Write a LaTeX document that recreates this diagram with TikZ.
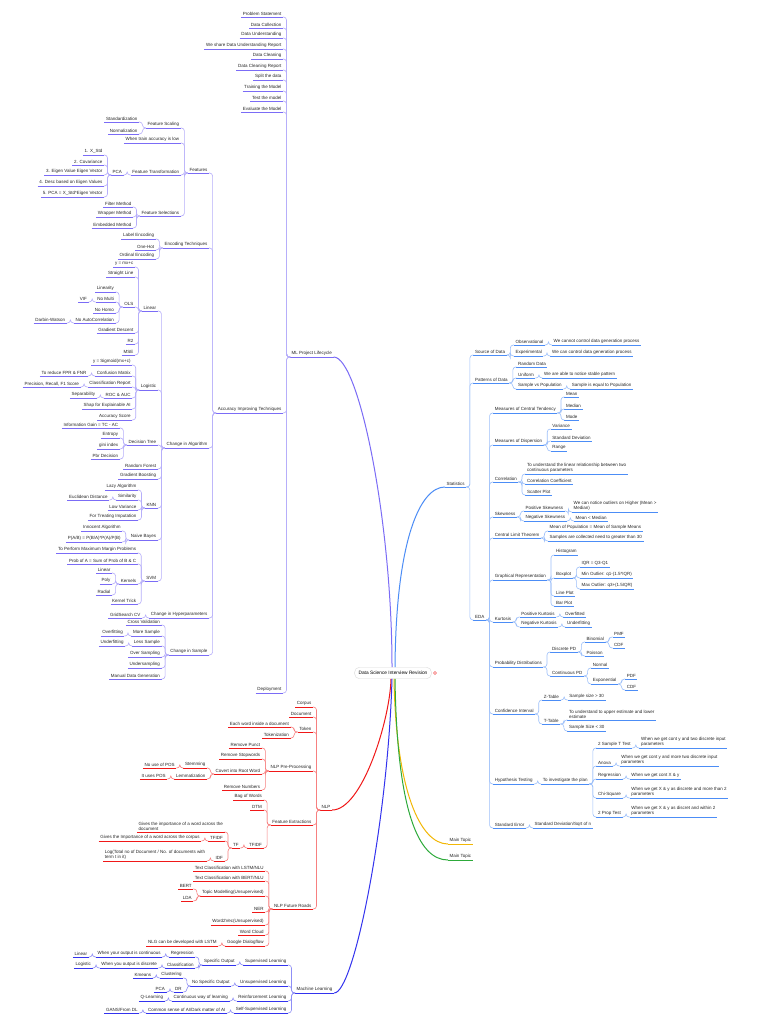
\documentclass[tikz,border=0pt]{standalone}
\usepackage{fontspec}
\setmainfont{Liberation Sans}
\usetikzlibrary{calc}
\definecolor{mlp}{HTML}{7B6CF6}
\definecolor{sta}{HTML}{4C8DF6}
\definecolor{nlp}{HTML}{F01818}
\definecolor{mlb}{HTML}{3333EE}
\definecolor{yel}{HTML}{F2B705}
\definecolor{grn}{HTML}{2DAA3A}
\tikzset{lbl/.style={inner xsep=1.5pt,inner ysep=1.2pt,align=left,text=black!85,font=\fontsize{4.5}{5.2}\selectfont}}
\newcommand{\AN}[6]{\node[lbl,anchor=#6] (#1) at (#2,#3) {#4};
 \draw[#5,line width=.9pt] (#1.south west) -- (#1.south east);}
\newcommand{\LC}[5]{\path let \p1=(#2.south west) in node[lbl,anchor=south east] (#1) at (\x1-7pt,-#3pt) {#4};
 \draw[#5,line width=.7pt] (#1.south west) -- (#1.south east);
 \draw[#5!55!white,line width=.6pt,rounded corners=3pt] (#2.south west) -- ++(-3.5pt,0) |- (#1.south east);}
\newcommand{\RC}[5]{\path let \p1=(#2.south east) in node[lbl,anchor=south west] (#1) at (\x1+7pt,-#3pt) {#4};
 \draw[#5,line width=.7pt] (#1.south west) -- (#1.south east);
 \draw[#5!55!white,line width=.6pt,rounded corners=3pt] (#2.south east) -- ++(3.5pt,0) |- (#1.south west);}
\begin{document}
\begin{tikzpicture}[x=1pt,y=-1pt]
\useasboundingbox[fill=white] (0,0) rectangle (768,1024);
% center
\node[draw=black!15,rounded corners=5pt,fill=white,inner sep=4pt,font=\fontsize{4.8}{5.5}\selectfont] (root) at (393,673) {Data Science Interview Revision};
\node[draw=nlp!70,circle,inner sep=0pt,minimum size=3pt] (rdot) at (435,673) {};
% ML project lifecycle
\AN{mlpl}{290}{357}{ML Project Lifecycle}{mlp}{south west}
\LC{ps}{mlpl}{17}{Problem Statement}{mlp}
\LC{dc}{mlpl}{28}{Data Collection}{mlp}
\LC{du}{mlpl}{38}{Data Understanding}{mlp}
\LC{ws}{mlpl}{49}{We share Data Understanding Report}{mlp}
\LC{dcl}{mlpl}{59}{Data Cleaning}{mlp}
\LC{dcr}{mlpl}{70}{Data Cleaning Report}{mlp}
\LC{sp}{mlpl}{80}{Split the data}{mlp}
\LC{tm}{mlpl}{91}{Training the Model}{mlp}
\LC{tst}{mlpl}{101}{Test the model}{mlp}
\LC{ev}{mlpl}{112}{Evaluate the Model}{mlp}
\LC{ait}{mlpl}{413}{Accuracy Improving Techniques}{mlp}
\LC{dep}{mlpl}{693}{Deployment}{mlp}
\LC{feat}{ait}{173}{Features}{mlp}
\LC{enc}{ait}{248}{Encoding Techniques}{mlp}
\LC{cia}{ait}{448}{Change in Algorithm}{mlp}
\LC{chp}{ait}{618}{Change in Hyperparameters}{mlp}
\LC{cis}{ait}{655}{Change in Sample}{mlp}
\LC{fs}{feat}{128}{Feature Scaling}{mlp}
\LC{wtl}{feat}{143}{When train accuracy is low}{mlp}
\LC{ft}{feat}{175}{Feature Transformation}{mlp}
\LC{fsel}{feat}{216}{Feature Selections}{mlp}
\LC{std}{fs}{122}{Standardization}{mlp}
\LC{nrm}{fs}{134}{Normalization}{mlp}
\LC{pca}{ft}{175}{PCA}{mlp}
\LC{p1}{pca}{155}{1. X\_Std}{mlp}
\LC{p2}{pca}{165}{2. Covariance}{mlp}
\LC{p3}{pca}{175}{3. Eigen Value Eigen Vector}{mlp}
\LC{p4}{pca}{186}{4. Desc based on Eigen Values}{mlp}
\LC{p5}{pca}{197}{5. PCA = X\_Std*Eigen Vector}{mlp}
\LC{fm}{fsel}{207}{Filter Method}{mlp}
\LC{wm}{fsel}{217}{Wrapper Method}{mlp}
\LC{em}{fsel}{228}{Embedded Method}{mlp}
\LC{le}{enc}{239}{Label Encoding}{mlp}
\LC{oh}{enc}{250}{One-Hot}{mlp}
\LC{oe}{enc}{259}{Ordinal Encoding}{mlp}
\LC{lin}{cia}{311}{Linear}{mlp}
\LC{logi}{cia}{390}{Logistic}{mlp}
\LC{dt}{cia}{445}{Decision Tree}{mlp}
\LC{rf}{cia}{469}{Random Forest}{mlp}
\LC{gb}{cia}{479}{Gradient Boosting}{mlp}
\LC{knn}{cia}{508}{KNN}{mlp}
\LC{nb}{cia}{540}{Naive Bayes}{mlp}
\LC{svm}{cia}{581}{SVM}{mlp}
\LC{ymx}{lin}{267}{y = mx+c}{mlp}
\LC{sl}{lin}{277}{Straight Line}{mlp}
\LC{ols}{lin}{307}{OLS}{mlp}
\LC{gd}{lin}{333}{Gradient Descent}{mlp}
\LC{r2}{lin}{344}{R2}{mlp}
\LC{mse}{lin}{355}{MSE}{mlp}
\LC{lny}{ols}{292}{Linearity}{mlp}
\LC{nm}{ols}{302}{No Multi}{mlp}
\LC{nh}{ols}{313}{No Homo}{mlp}
\LC{nac}{ols}{323}{No AutoCorrelation}{mlp}
\LC{vif}{nm}{302}{VIF}{mlp}
\LC{dw}{nac}{323}{Darbin-Watson}{mlp}
\LC{sig}{logi}{365}{y = Sigmoid(mx+c)}{mlp}
\LC{cm}{logi}{376}{Confusion Matrix}{mlp}
\LC{cr}{logi}{387}{Classification Report}{mlp}
\LC{roc}{logi}{398}{ROC \& AUC}{mlp}
\LC{shap}{logi}{409}{Shap for Explainable AI}{mlp}
\LC{acc}{logi}{420}{Accuracy Score}{mlp}
\LC{fpr}{cm}{376}{To reduce FPR \& FNR}{mlp}
\LC{prf}{cr}{387}{Precision, Recall, F1 Score}{mlp}
\LC{sepa}{roc}{398}{Separability}{mlp}
\LC{ig}{dt}{428}{Information Gain = TC - AC}{mlp}
\LC{ent}{dt}{438}{Entropy}{mlp}
\LC{gini}{dt}{449}{gini index}{mlp}
\LC{pbr}{dt}{459}{Pbr Decision}{mlp}
\LC{lazy}{knn}{490}{Lazy Algorithm}{mlp}
\LC{sim}{knn}{500}{Similarity}{mlp}
\LC{lv}{knn}{510}{Low Variance}{mlp}
\LC{fti}{knn}{520}{For Treating Imputation}{mlp}
\LC{ed}{sim}{500}{Euclidean Distance}{mlp}
\LC{inn}{nb}{531}{Innocent Algorithm}{mlp}
\LC{pab}{nb}{542}{P(A/B) = P(B/A)*P(A)/P(B)}{mlp}
\LC{mm}{svm}{553}{To Perform Maximum Margin Problems}{mlp}
\LC{pa}{svm}{564}{Prob of A = Sum of Prob of B \& C}{mlp}
\LC{ker}{svm}{584}{Kernels}{mlp}
\LC{kt}{svm}{604}{Kernel Trick}{mlp}
\LC{kl}{ker}{573}{Linear}{mlp}
\LC{kp}{ker}{584}{Poly}{mlp}
\LC{kr}{ker}{595}{Radial}{mlp}
\LC{gs}{chp}{618}{GridSearch CV}{mlp}
\LC{cv}{cis}{625}{Cross Validation}{mlp}
\LC{ms}{cis}{636}{More Sample}{mlp}
\LC{ls}{cis}{646}{Less Sample}{mlp}
\LC{os}{cis}{657}{Over Sampling}{mlp}
\LC{us}{cis}{668}{Undersampling}{mlp}
\LC{mdg}{cis}{679}{Manual Data Generation}{mlp}
\LC{of}{ms}{636}{Overfitting}{mlp}
\LC{uf}{ls}{646}{Underfitting}{mlp}
% NLP
\AN{nlpn}{320}{810}{NLP}{nlp}{south west}
\LC{corp}{nlpn}{707}{Corpus}{nlp}
\LC{docu}{nlpn}{717}{Document}{nlp}
\LC{tok}{nlpn}{732}{Token}{nlp}
\LC{npp}{nlpn}{771}{NLP Pre-Processing}{nlp}
\LC{fe}{nlpn}{825}{Feature Extractions}{nlp}
\LC{nfr}{nlpn}{909}{NLP Future Roads}{nlp}
\LC{ew}{tok}{727}{Each word inside a document}{nlp}
\LC{tkn}{tok}{738}{Tokenization}{nlp}
\LC{rp}{npp}{748}{Remove Punct}{nlp}
\LC{rs}{npp}{759}{Remove Stopwords}{nlp}
\LC{crw}{npp}{774}{Covert into Root Word}{nlp}
\LC{rn}{npp}{790}{Remove Numbers}{nlp}
\LC{stem}{crw}{768}{Stemming}{nlp}
\LC{lem}{crw}{779}{Lemmatization}{nlp}
\LC{nup}{stem}{768}{No use of POS}{nlp}
\LC{iup}{lem}{779}{It uses POS}{nlp}
\LC{bow}{fe}{800}{Bag of Words}{nlp}
\LC{dtm}{fe}{810}{DTM}{nlp}
\LC{tfidf}{fe}{848}{TFIDF}{nlp}
\LC{tf}{tfidf}{848}{TF}{nlp}
\LC{gid}{tf}{832}{Gives the importance of a word across the\\document}{nlp}
\LC{tfidfb}{tf}{841}{TFIDF}{nlp}
\LC{idf}{tf}{861}{IDF}{nlp}
\LC{gic}{tfidfb}{841}{Gives the Importance of a word across the corpus}{nlp}
\LC{logt}{idf}{861}{Log(Total no of Document / No. of documents with\\term t in it)}{nlp}
\LC{tcl}{nfr}{871}{Text Classification with LSTM/NLU}{nlp}
\LC{tcb}{nfr}{881}{Text Classification with BERT/NLU}{nlp}
\LC{topm}{nfr}{896}{Topic Modelling(Unsupervised)}{nlp}
\LC{ner}{nfr}{912}{NER}{nlp}
\LC{wtv}{nfr}{925}{Word2Vec(Unsupervised)}{nlp}
\LC{wc}{nfr}{935}{Word Cloud}{nlp}
\LC{gdf}{nfr}{946}{Google Dialogflow}{nlp}
\LC{bert}{topm}{889}{BERT}{nlp}
\LC{lda}{topm}{901}{LDA}{nlp}
\LC{nlg}{gdf}{946}{NLG can be developed with LSTM}{nlp}
% Machine learning
\AN{ml}{295}{993}{Machine Learning}{mlb}{south west}
\LC{sup}{ml}{965}{Supervised Learning}{mlb}
\LC{uns}{ml}{986}{Unsupervised Learning}{mlb}
\LC{rl}{ml}{1001}{Reinforcement Learning}{mlb}
\LC{ssl}{ml}{1013}{Self-Supervised Learning}{mlb}
\LC{so}{sup}{965}{Specific Output}{mlb}
\LC{reg}{so}{957}{Regression}{mlb}
\LC{cla}{so}{968}{Classification}{mlb}
\LC{woc}{reg}{957}{When your output is continuous}{mlb}
\LC{lnr}{woc}{957}{Linear}{mlb}
\LC{wod}{cla}{968}{When you output is discrete}{mlb}
\LC{lgs}{wod}{968}{Logistic}{mlb}
\LC{nso}{uns}{986}{No Specific Output}{mlb}
\LC{clu}{nso}{978}{Clustering}{mlb}
\LC{drr}{nso}{992}{DR}{mlb}
\LC{km}{clu}{978}{Kmeans}{mlb}
\LC{pcam}{drr}{992}{PCA}{mlb}
\LC{cwl}{rl}{1001}{Continuous way of learning}{mlb}
\LC{ql}{cwl}{1001}{Q-Learning}{mlb}
\LC{cs}{ssl}{1013}{Common sense of AI/Dark matter of AI}{mlb}
\LC{gan}{cs}{1013}{GANS/From DL}{mlb}
% Statistics
\AN{stat}{445}{487}{Statistics}{sta}{south west}
\RC{sod}{stat}{355}{Source of Data}{sta}
\RC{pod}{stat}{383}{Patterns of Data}{sta}
\RC{eda}{stat}{620}{EDA}{sta}
\RC{obs}{sod}{345}{Observational}{sta}
\RC{expm}{sod}{356}{Experimental}{sta}
\RC{wcn}{obs}{345}{We cannot control data generation process}{sta}
\RC{wcc}{expm}{356}{We can control data generation process}{sta}
\RC{rd}{pod}{367}{Random Data}{sta}
\RC{uni}{pod}{378}{Uniform}{sta}
\RC{svp}{pod}{389}{Sample vs Population}{sta}
\RC{wan}{uni}{378}{We are able to notice stable pattern}{sta}
\RC{sep}{svp}{389}{Sample is equal to Population}{sta}
\RC{mct}{eda}{413}{Measures of Central Tendency}{sta}
\RC{mdi}{eda}{445}{Measures of Dispersion}{sta}
\RC{corr}{eda}{482}{Correlation}{sta}
\RC{skew}{eda}{517}{Skewness}{sta}
\RC{clt}{eda}{538}{Central Limit Theorem}{sta}
\RC{gr}{eda}{580}{Graphical Representation}{sta}
\RC{kurt}{eda}{622}{Kurtosis}{sta}
\RC{pdi}{eda}{667}{Probability Distributions}{sta}
\RC{ci}{eda}{714}{Confidence Interval}{sta}
\RC{ht}{eda}{784}{Hypothesis Testing}{sta}
\RC{se}{eda}{828}{Standard Error}{sta}
\RC{mean}{mct}{397}{Mean}{sta}
\RC{med}{mct}{409}{Median}{sta}
\RC{mode}{mct}{420}{Mode}{sta}
\RC{var}{mdi}{429}{Variance}{sta}
\RC{sdv}{mdi}{441}{Standard Deviation}{sta}
\RC{rng}{mdi}{451}{Range}{sta}
\RC{tul}{corr}{474}{To understand the linear relationship between two\\continuous parameters}{sta}
\RC{cc}{corr}{484}{Correlation Coefficient}{sta}
\RC{scp}{corr}{495}{Scatter Plot}{sta}
\RC{pos}{skew}{511}{Positive Skewness}{sta}
\RC{neg}{skew}{521}{Negative Skewness}{sta}
\RC{wno}{pos}{512}{We can notice outliers on Higher (Mean >\\Median)}{sta}
\RC{mlm}{neg}{521}{Mean < Median}{sta}
\RC{mpop}{clt}{531}{Mean of Population = Mean of Sample Means}{sta}
\RC{sac}{clt}{541}{Samples are collected need to greater than 30}{sta}
\RC{hist}{gr}{555}{Histogram}{sta}
\RC{box}{gr}{578}{Boxplot}{sta}
\RC{lp}{gr}{596}{Line Plot}{sta}
\RC{bp}{gr}{606}{Bar Plot}{sta}
\RC{iqr}{box}{567}{IQR = Q3-Q1}{sta}
\RC{mino}{box}{578}{Min Outlier: q1-(1.5*IQR)}{sta}
\RC{maxo}{box}{589}{Max Outlier: q3+(1.5IQR)}{sta}
\RC{pk}{kurt}{617}{Positive Kurtosis}{sta}
\RC{nk}{kurt}{627}{Negative Kurtosis}{sta}
\RC{ovf}{pk}{617}{Overfitted}{sta}
\RC{unf}{nk}{627}{Underfitting}{sta}
\RC{dpd}{pdi}{652}{Discrete PD}{sta}
\RC{cpd}{pdi}{676}{Continuous PD}{sta}
\RC{bin}{dpd}{642}{Binomial}{sta}
\RC{poi}{dpd}{656}{Poisson}{sta}
\RC{pmf}{bin}{637}{PMF}{sta}
\RC{cdf}{bin}{648}{CDF}{sta}
\RC{nor}{cpd}{668}{Normal}{sta}
\RC{expo}{cpd}{684}{Exponential}{sta}
\RC{pdf}{expo}{679}{PDF}{sta}
\RC{cdfb}{expo}{690}{CDF}{sta}
\RC{zt}{ci}{700}{Z-Table}{sta}
\RC{tt}{ci}{724}{T-Table}{sta}
\RC{ssa}{zt}{700}{Sample size > 30}{sta}
\RC{tue}{tt}{720}{To understand to upper estimate and lower\\estimate}{sta}
\RC{ssb}{tt}{731}{Sample Size < 30}{sta}
\RC{tip}{ht}{784}{To investigate the plan}{sta}
\RC{tst2}{tip}{748}{2 Sample T Test}{sta}
\RC{anv}{tip}{766}{Anova}{sta}
\RC{rgr}{tip}{779}{Regression}{sta}
\RC{chi}{tip}{798}{Chi-Square}{sta}
\RC{ptt}{tip}{817}{2 Prop Test}{sta}
\RC{wa}{tst2}{748}{When we get cont y and two discrete input\\parameters}{sta}
\RC{wb}{anv}{766}{When we get cont y and more two discrete input\\parameters}{sta}
\RC{wcx}{rgr}{779}{When we get cont X \& y}{sta}
\RC{wd}{chi}{798}{When we get X \& y as discrete and more than 2\\parameters}{sta}
\RC{we}{ptt}{817}{When we get X \& y as discret and within 2\\parameters}{sta}
\RC{sdn}{se}{828}{Standard Deviation/Sqrt of n}{sta}
% main topics
\AN{mta}{448}{844}{Main Topic}{yel}{south west}
\AN{mtb}{448}{860}{Main Topic}{grn}{south west}
% main connectors
\draw[mlp,line width=1pt] (mlpl.south east) .. controls +(25,0) and (392,520) .. ([xshift=-1pt]root.north);
\draw[sta,line width=1pt] (stat.south west) .. controls +(-25,0) and (396,540) .. ([xshift=2pt]root.north);
\draw[nlp,line width=1pt] (nlpn.south east) .. controls +(30,0) and (390,720) .. ([xshift=-2pt]root.south);
\draw[mlb,line width=1pt] (ml.south east) .. controls +(20,0) and (388,820) .. ([xshift=-1pt]root.south);
\draw[yel,line width=1pt] ([xshift=1pt]root.south) .. controls (396,790) and (420,844) .. (mta.south west);
\draw[grn,line width=1pt] ([xshift=2pt]root.south) .. controls (397,810) and (418,860) .. (mtb.south west);
\end{tikzpicture}
\end{document}
